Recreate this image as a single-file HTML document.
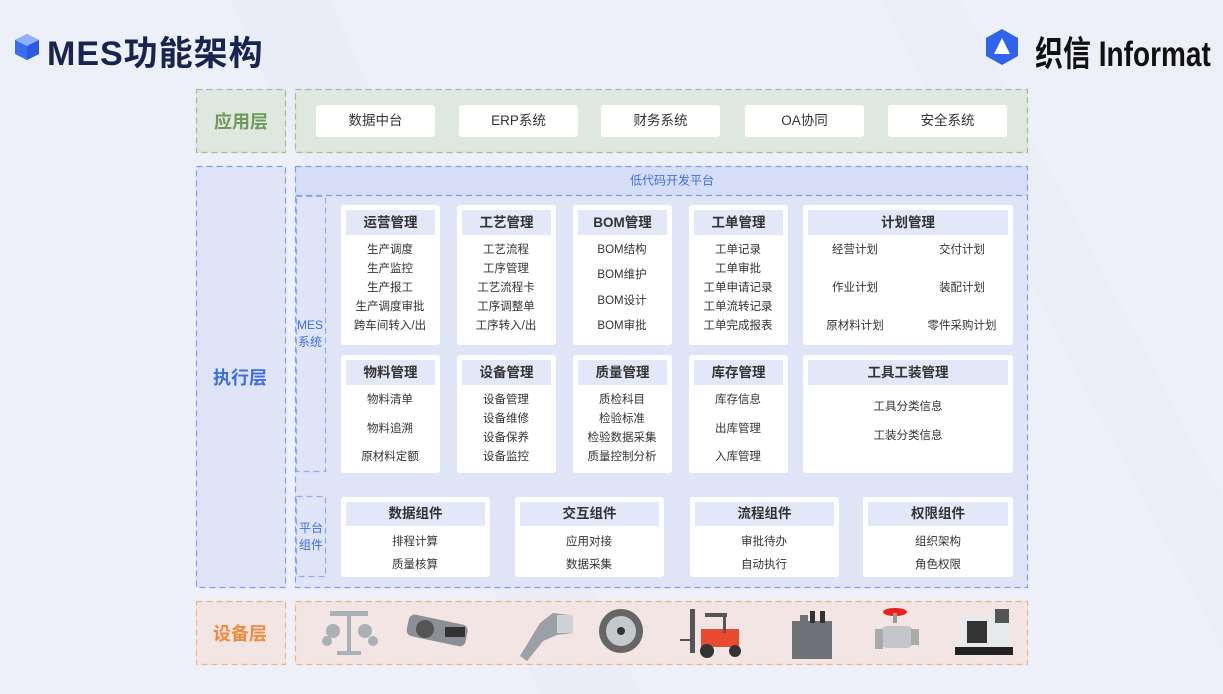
<!DOCTYPE html>
<html><head><meta charset="utf-8"><style>
*{margin:0;padding:0;box-sizing:border-box}
body{width:1223px;height:694px;overflow:hidden;position:relative;background:#eef0f9;font-family:"Liberation Sans","Noto Sans CJK SC",sans-serif}
.a{position:absolute}
.t{position:absolute;transform:translate(-50%,-50%);white-space:nowrap;color:#333;font-size:11.5px}
.card{position:absolute;background:#fff;border-radius:3px}
.hd{position:absolute;left:5px;right:5px;top:5px;height:25px;background:#e3e8f8;font-size:13.5px;font-weight:bold;color:#333;text-align:center;line-height:25px}
.btn{position:absolute;top:105px;height:32px;width:119px;background:#fff;border-radius:3px;text-align:center;line-height:32px;font-size:13.5px;color:#333}
</style></head><body>
<svg class="a" style="left:0;top:0" width="1223" height="694">
<polygon points="230,0 330,0 640,694 540,694" fill="#e8ebf7" opacity="0.8"/>
<polygon points="880,0 960,0 1223,500 1223,650" fill="#e9ecf7" opacity="0.7"/>
</svg>
<!-- title -->
<svg class="a" style="left:14px;top:34px" width="26" height="27"><polygon points="13,0 25,6 25,20 13,26 1,20 1,6" fill="#3a6cf2"/><polygon points="13,0 25,6 13,12 1,6" fill="#8fb0fa"/><polygon points="13,12 25,6 25,20 13,26" fill="#2b5ae0"/></svg>
<div class="a" style="left:47px;top:26px;font-size:34px;font-weight:bold;color:#17244e;letter-spacing:1px">MES功能架构</div>
<svg class="a" style="left:984px;top:28px" width="36" height="38"><polygon points="18,1 34,10 34,28 18,37 2,28 2,10" fill="#2f63ee"/><polygon points="18,10 26,26 10,26" fill="#fff"/></svg>
<div class="a" style="left:1035px;top:26px;font-size:35px;font-weight:bold;color:#111;transform:scaleX(0.8);transform-origin:left top;white-space:nowrap">织信 Informat</div>
<!-- backgrounds -->
<div class="a" style="left:196px;top:89px;width:90px;height:64px;background:#dfe7e1"></div>
<div class="a" style="left:295px;top:89px;width:733px;height:64px;background:#dfe7e1"></div>
<div class="a" style="left:196px;top:166px;width:90px;height:422px;background:#dfe5f7"></div>
<div class="a" style="left:295px;top:166px;width:733px;height:422px;background:#dfe5f7"></div>
<div class="a" style="left:295px;top:166px;width:733px;height:30px;background:#d6def7"></div>
<div class="a" style="left:196px;top:601px;width:90px;height:64px;background:#f2e5e3"></div>
<div class="a" style="left:295px;top:601px;width:733px;height:64px;background:#f2e5e3"></div>
<svg class="a" style="left:0;top:0" width="1223" height="694" fill="none" stroke-width="1.2" stroke-dasharray="6 4">
<rect x="196.5" y="89.5" width="89" height="63" stroke="#9fc08c"/>
<rect x="295.5" y="89.5" width="732" height="63" stroke="#9fc08c"/>
<rect x="196.5" y="166.5" width="89" height="421" stroke="#7f9ef0"/>
<rect x="295.5" y="166.5" width="732" height="421" stroke="#7f9ef0"/>
<line x1="296" y1="195.5" x2="1027" y2="195.5" stroke="#7f9ef0"/>
<rect x="296.5" y="196.5" width="29" height="275" stroke="#8faaf0"/>
<rect x="296.5" y="496.5" width="29" height="80" stroke="#8faaf0"/>
<rect x="196.5" y="601.5" width="89" height="63" stroke="#f0b57f"/>
<rect x="295.5" y="601.5" width="732" height="63" stroke="#f0b57f"/>
</svg>
<div class="t" style="left:241px;top:121px;font-size:18px;color:#6e9b57;font-weight:bold">应用层</div>
<div class="btn" style="left:316px">数据中台</div>
<div class="btn" style="left:459px">ERP系统</div>
<div class="btn" style="left:601px">财务系统</div>
<div class="btn" style="left:745px">OA协同</div>
<div class="btn" style="left:888px">安全系统</div>
<div class="t" style="left:240px;top:377px;font-size:18px;color:#3d6fe0;font-weight:bold">执行层</div>
<div class="t" style="left:672px;top:180px;font-size:12px;color:#3d6fe0">低代码开发平台</div>
<div class="t" style="left:310px;top:334px;font-size:12px;color:#3d6fe0;line-height:17px;text-align:center">MES<br>系统</div>
<div class="t" style="left:311px;top:537px;font-size:12px;color:#3d6fe0;line-height:17px;text-align:center">平台<br>组件</div>

<div class="card" style="left:341px;top:205px;width:99px;height:140px"><div class="hd">运营管理</div></div>
<div class="t" style="left:390px;top:249px">生产调度</div><div class="t" style="left:390px;top:268px">生产监控</div><div class="t" style="left:390px;top:287px">生产报工</div><div class="t" style="left:390px;top:306px">生产调度审批</div><div class="t" style="left:390px;top:325px">跨车间转入/出</div>
<div class="card" style="left:457px;top:205px;width:99px;height:140px"><div class="hd">工艺管理</div></div>
<div class="t" style="left:506px;top:249px">工艺流程</div><div class="t" style="left:506px;top:268px">工序管理</div><div class="t" style="left:506px;top:287px">工艺流程卡</div><div class="t" style="left:506px;top:306px">工序调整单</div><div class="t" style="left:506px;top:325px">工序转入/出</div>
<div class="card" style="left:573px;top:205px;width:99px;height:140px"><div class="hd">BOM管理</div></div>
<div class="t" style="left:622px;top:249px">BOM结构</div><div class="t" style="left:622px;top:274px">BOM维护</div><div class="t" style="left:622px;top:300px">BOM设计</div><div class="t" style="left:622px;top:325px">BOM审批</div>
<div class="card" style="left:689px;top:205px;width:99px;height:140px"><div class="hd">工单管理</div></div>
<div class="t" style="left:738px;top:249px">工单记录</div><div class="t" style="left:738px;top:268px">工单审批</div><div class="t" style="left:738px;top:287px">工单申请记录</div><div class="t" style="left:738px;top:306px">工单流转记录</div><div class="t" style="left:738px;top:325px">工单完成报表</div>
<div class="card" style="left:803px;top:205px;width:210px;height:140px"><div class="hd">计划管理</div></div>
<div class="t" style="left:855px;top:249px">经营计划</div><div class="t" style="left:962px;top:249px">交付计划</div><div class="t" style="left:855px;top:287px">作业计划</div><div class="t" style="left:962px;top:287px">装配计划</div><div class="t" style="left:855px;top:325px">原材料计划</div><div class="t" style="left:962px;top:325px">零件采购计划</div>

<div class="card" style="left:341px;top:355px;width:99px;height:118px"><div class="hd">物料管理</div></div>
<div class="t" style="left:390px;top:399px">物料清单</div><div class="t" style="left:390px;top:428px">物料追溯</div><div class="t" style="left:390px;top:456px">原材料定额</div>
<div class="card" style="left:457px;top:355px;width:99px;height:118px"><div class="hd">设备管理</div></div>
<div class="t" style="left:506px;top:399px">设备管理</div><div class="t" style="left:506px;top:418px">设备维修</div><div class="t" style="left:506px;top:437px">设备保养</div><div class="t" style="left:506px;top:456px">设备监控</div>
<div class="card" style="left:573px;top:355px;width:99px;height:118px"><div class="hd">质量管理</div></div>
<div class="t" style="left:622px;top:399px">质检科目</div><div class="t" style="left:622px;top:418px">检验标准</div><div class="t" style="left:622px;top:437px">检验数据采集</div><div class="t" style="left:622px;top:456px">质量控制分析</div>
<div class="card" style="left:689px;top:355px;width:99px;height:118px"><div class="hd">库存管理</div></div>
<div class="t" style="left:738px;top:399px">库存信息</div><div class="t" style="left:738px;top:428px">出库管理</div><div class="t" style="left:738px;top:456px">入库管理</div>
<div class="card" style="left:803px;top:355px;width:210px;height:118px"><div class="hd">工具工装管理</div></div>
<div class="t" style="left:908px;top:406px">工具分类信息</div><div class="t" style="left:908px;top:435px">工装分类信息</div>

<div class="card" style="left:341px;top:497px;width:149px;height:80px"><div class="hd" style="height:24px;line-height:24px">数据组件</div></div>
<div class="t" style="left:415px;top:541px">排程计算</div><div class="t" style="left:415px;top:564px">质量核算</div>
<div class="card" style="left:515px;top:497px;width:149px;height:80px"><div class="hd" style="height:24px;line-height:24px">交互组件</div></div>
<div class="t" style="left:589px;top:541px">应用对接</div><div class="t" style="left:589px;top:564px">数据采集</div>
<div class="card" style="left:690px;top:497px;width:149px;height:80px"><div class="hd" style="height:24px;line-height:24px">流程组件</div></div>
<div class="t" style="left:764px;top:541px">审批待办</div><div class="t" style="left:764px;top:564px">自动执行</div>
<div class="card" style="left:863px;top:497px;width:150px;height:80px"><div class="hd" style="height:24px;line-height:24px">权限组件</div></div>
<div class="t" style="left:938px;top:541px">组织架构</div><div class="t" style="left:938px;top:564px">角色权限</div>

<div class="t" style="left:240px;top:633px;font-size:18px;color:#f08a3c;font-weight:bold">设备层</div>
<svg class="a" style="left:295px;top:601px" width="733" height="64">
<g fill="#aab0b8"><rect x="52" y="12" width="4" height="40"/><rect x="35" y="10" width="38" height="5"/><rect x="42" y="50" width="24" height="4"/><circle cx="38" cy="30" r="7"/><circle cx="70" cy="30" r="7"/><circle cx="32" cy="40" r="5"/><circle cx="78" cy="40" r="5"/></g>
<g fill="#8c9096"><rect x="112" y="18" width="60" height="22" rx="6" transform="rotate(12 140 30)"/><circle cx="130" cy="28" r="9" fill="#555"/><rect x="150" y="26" width="20" height="10" fill="#333"/></g>
<g fill="#9aa0a6"><polygon points="225,55 245,22 258,12 275,14 278,32 262,34 248,40 232,60"/><rect x="262" y="14" width="16" height="18" fill="#cfd2d6"/></g>
<g><circle cx="326" cy="30" r="22" fill="#666"/><circle cx="326" cy="30" r="15" fill="#c6c9cc"/><circle cx="326" cy="30" r="4" fill="#333"/></g>
<g><rect x="406" y="28" width="38" height="18" fill="#e84b30"/><rect x="395" y="8" width="5" height="44" fill="#555"/><rect x="410" y="12" width="22" height="4" fill="#555"/><rect x="428" y="14" width="3" height="18" fill="#555"/><circle cx="412" cy="50" r="7" fill="#333"/><circle cx="440" cy="50" r="6" fill="#333"/><rect x="385" y="38" width="14" height="2" fill="#555"/></g>
<g fill="#6f7378"><rect x="497" y="20" width="40" height="38"/><rect x="515" y="10" width="5" height="12" fill="#333"/><rect x="525" y="10" width="5" height="12" fill="#333"/><rect x="505" y="14" width="8" height="8"/></g>
<g><ellipse cx="600" cy="11" rx="12" ry="4" fill="#e82020"/><rect x="598" y="12" width="4" height="10" fill="#999"/><rect x="585" y="25" width="34" height="22" rx="8" fill="#c3c6ca"/><rect x="580" y="28" width="8" height="20" fill="#aaa"/><rect x="616" y="28" width="8" height="16" fill="#aaa"/></g>
<g><rect x="665" y="14" width="50" height="36" fill="#e8e9eb"/><rect x="672" y="20" width="20" height="22" fill="#333"/><rect x="700" y="8" width="14" height="14" fill="#555"/><rect x="660" y="46" width="58" height="8" fill="#222"/></g>
</svg>
</body></html>
